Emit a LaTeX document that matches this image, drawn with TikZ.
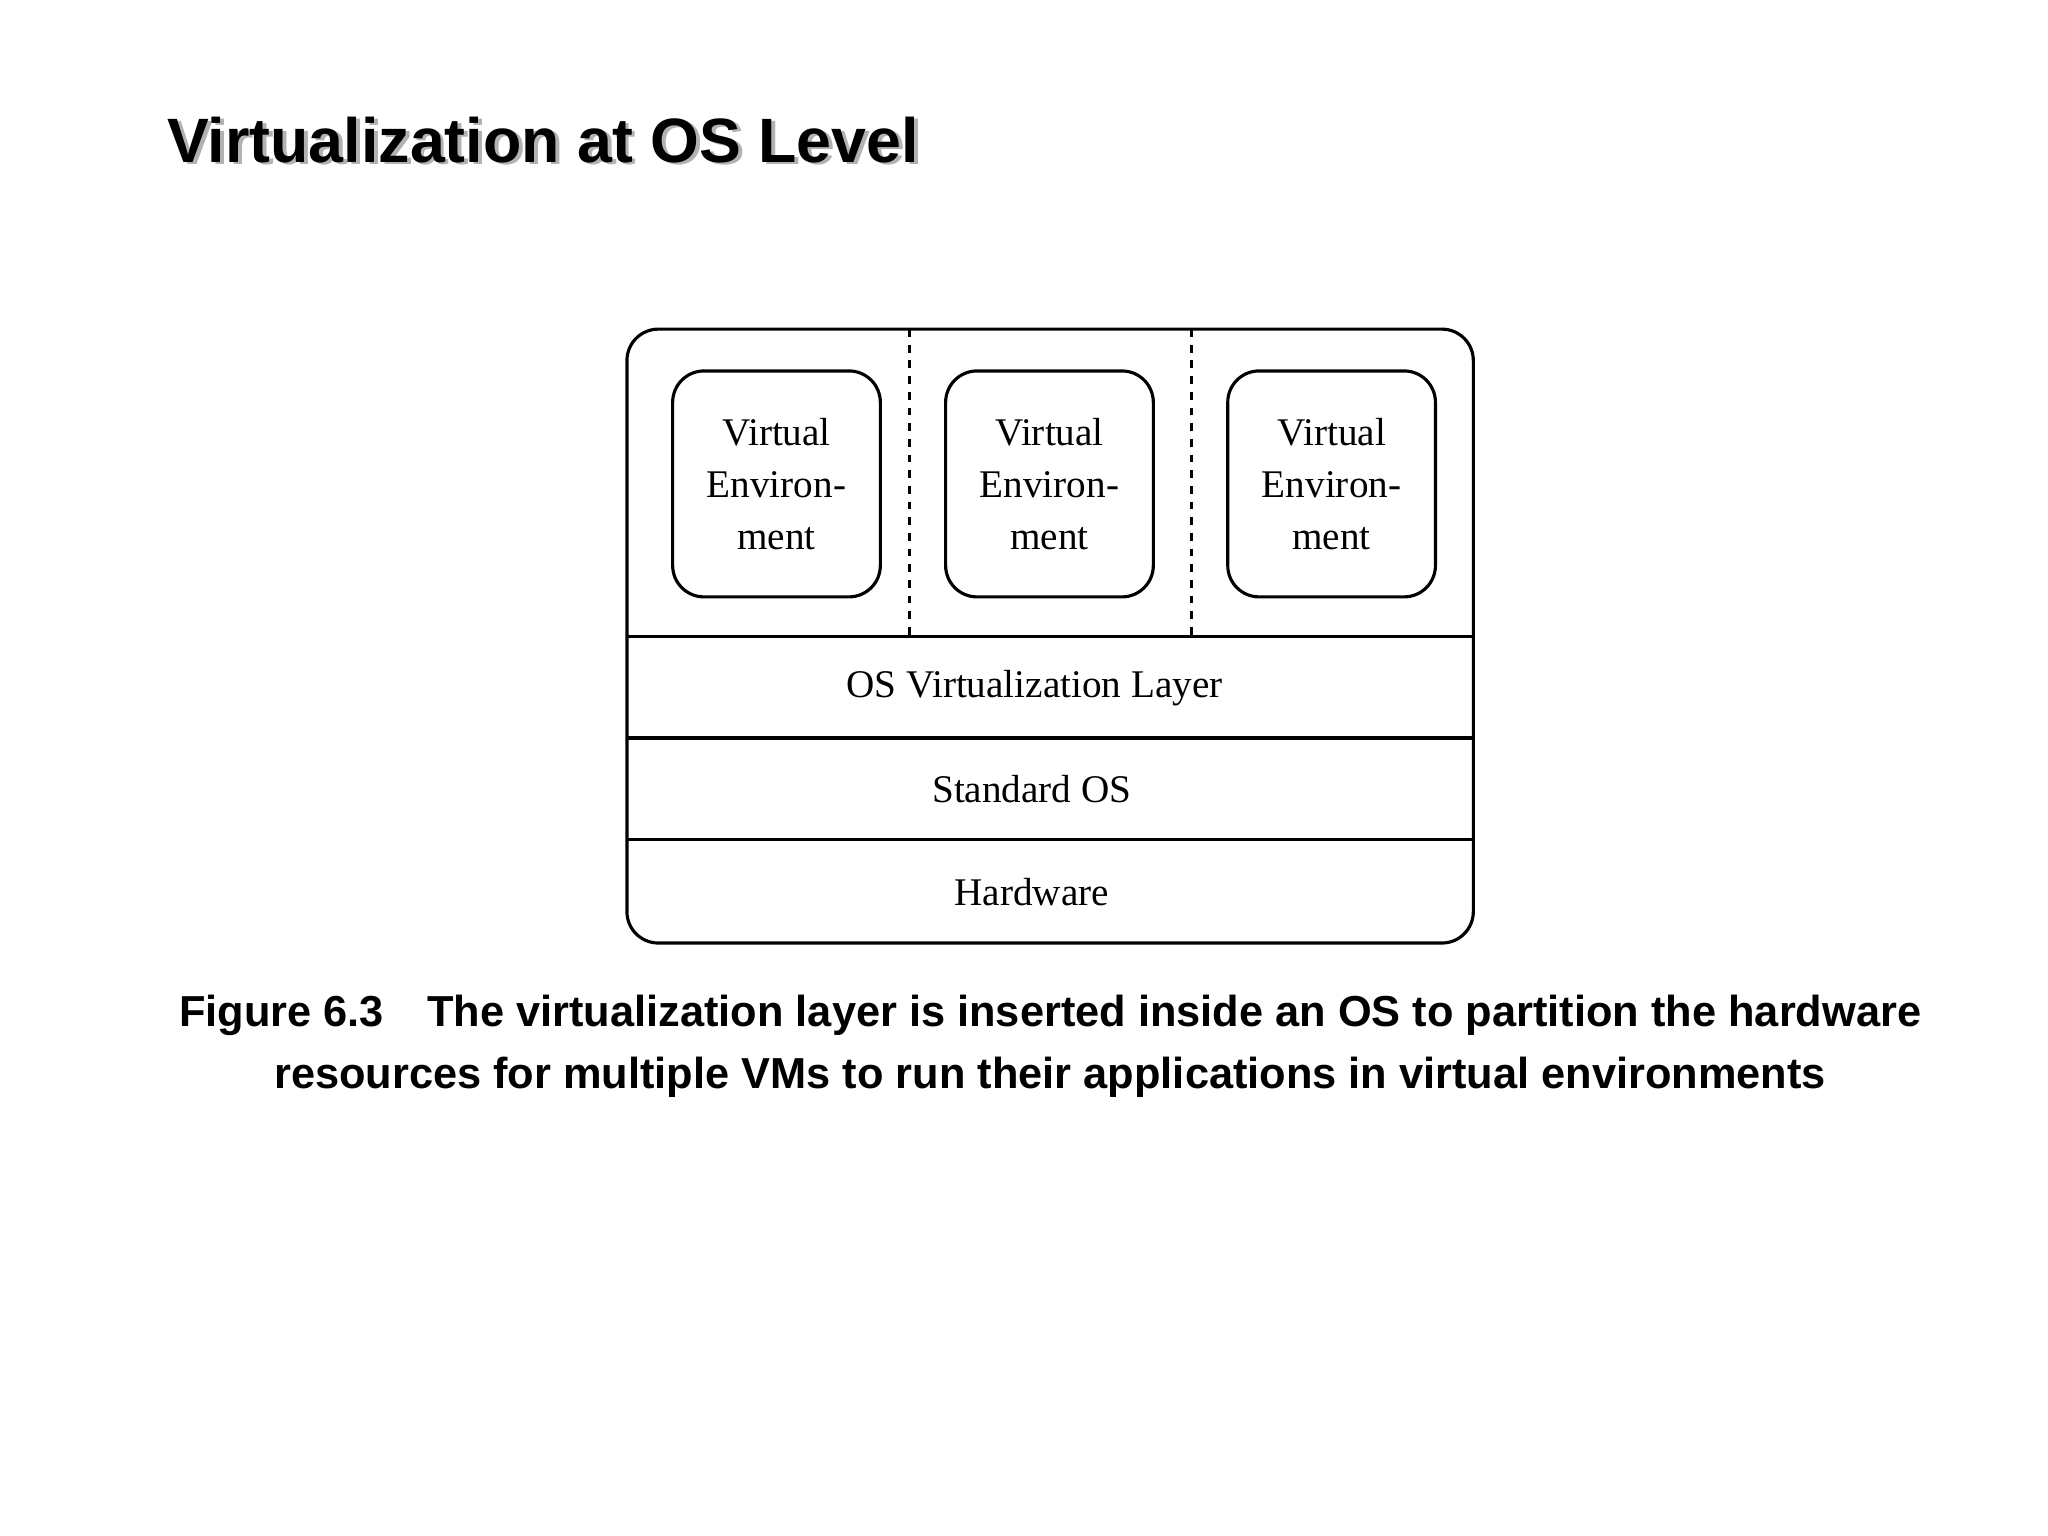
\documentclass[tikz,border=0pt]{standalone}
\usepackage{fontspec}
\setmainfont{Liberation Serif}
\newfontfamily\arialf{Liberation Sans}
\begin{document}
\begin{tikzpicture}[x=0.5pt,y=-0.5pt,
  vebox/.style={draw,line width=1.2pt,rounded corners=12pt,minimum width=79.5pt,minimum height=86.5pt,align=center,font=\fontsize{15}{20}\selectfont,inner sep=0pt},
  layer/.style={font=\fontsize{15}{18}\selectfont}]
\useasboundingbox (0,0) rectangle (1568,1176);
\node[anchor=west,font=\arialf\bfseries\fontsize{24}{28}\selectfont,text=gray!60] at (124,109) {Virtualization at OS Level};
\node[anchor=west,font=\arialf\bfseries\fontsize{24}{28}\selectfont] (title) at (121,107) {Virtualization at OS Level};
\draw[line width=1.2pt,rounded corners=12pt] (480,252) rectangle (1128,722);
\coordinate (d1t) at (696,252); \coordinate (d1b) at (696,487);
\coordinate (d2t) at (912,252); \coordinate (d2b) at (912,487);
\draw[dashed,line width=1.2pt] (d1t) -- (d1b);
\draw[dashed,line width=1.2pt] (d2t) -- (d2b);
\coordinate (l1a) at (480,487); \coordinate (l1b) at (1128,487);
\coordinate (l2a) at (480,565); \coordinate (l2b) at (1128,565);
\coordinate (l3a) at (480,643); \coordinate (l3b) at (1128,643);
\draw[line width=1.2pt] (l1a) -- (l1b) (l2a) -- (l2b) (l3a) -- (l3b);
\node[vebox] (ve1) at (594.5,370.5) {Virtual\\Environ-\\ment};
\node[vebox] (ve2) at (803.5,370.5) {Virtual\\Environ-\\ment};
\node[vebox] (ve3) at (1019.5,370.5) {Virtual\\Environ-\\ment};
\node[layer] (osv) at (792,527) {OS Virtualization Layer};
\node[layer] (sos) at (790,604) {Standard OS};
\node[layer] (hw) at (790,683) {Hardware};
\node[font=\arialf\bfseries\fontsize{16.6}{23.5}\selectfont,align=center] (cap) at (804,801) {Figure 6.3\quad The virtualization layer is inserted inside an OS to partition the hardware\\resources for multiple VMs to run their applications in virtual environments};
\end{tikzpicture}
\end{document}
